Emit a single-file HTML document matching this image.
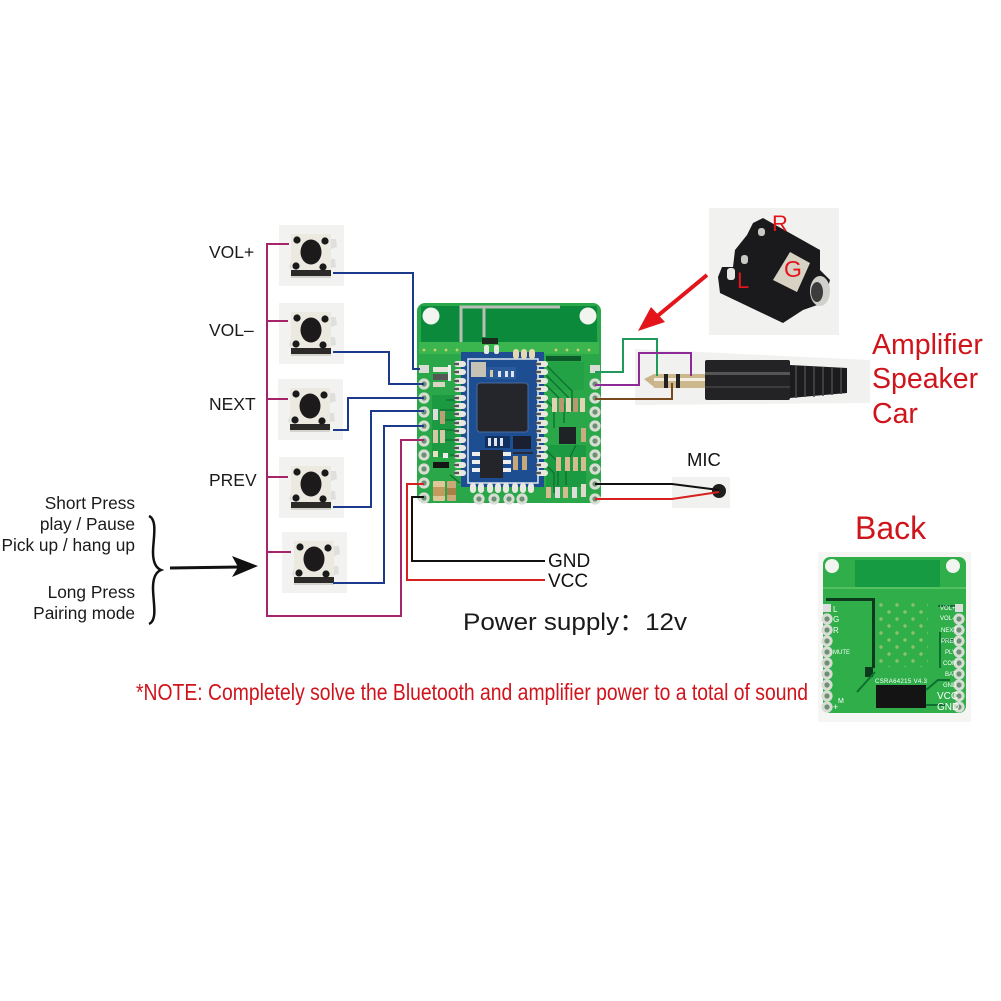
<!DOCTYPE html>
<html><head><meta charset="utf-8">
<style>html,body{margin:0;padding:0;background:#fff}svg{display:block}text{font-family:"Liberation Sans","Noto Sans CJK SC",sans-serif}</style>
</head><body>
<svg width="1001" height="1001" viewBox="0 0 1001 1001" xmlns="http://www.w3.org/2000/svg">
<defs>
<g id="btn">
<rect width="65" height="61" fill="#f2f3f1"/>
<path d="M52 14h5l1 8-6 2zM52 34h4l1 8-5 1zM12 36l-2 6 2 3z" fill="#dfe0de"/>
<rect x="12" y="9" width="40" height="37" fill="#ece9e0"/>
<rect x="12" y="45" width="40" height="6" fill="#2c2a28"/>
<rect x="12" y="51" width="40" height="2" fill="#d4d4cf"/>
<circle cx="18" cy="15" r="3.6" fill="#1a1a1a"/><circle cx="46" cy="16" r="3.6" fill="#1a1a1a"/>
<circle cx="17" cy="41" r="3.6" fill="#1a1a1a"/><circle cx="44" cy="42" r="3.6" fill="#1a1a1a"/>
<ellipse cx="32" cy="27" rx="10.5" ry="12.5" fill="#1c1a1b"/>
</g>
<g id="pad"><circle r="5.6" fill="#d8ddd4"/><circle r="2.6" fill="#6d8f74"/></g>
<g id="mp"><rect x="-6" y="-3" width="12" height="6" rx="3" fill="#e8e8e0"/><rect x="-6" y="-1.2" width="5" height="2.4" fill="#555"/></g>
<pattern id="dots" x="878" y="602" width="16" height="14" patternUnits="userSpaceOnUse">
<circle cx="3" cy="3" r="1.7" fill="#8fc16a"/><circle cx="11" cy="10" r="1.7" fill="#8fc16a"/>
</pattern>
<pattern id="tdots" x="430" y="345" width="11" height="11" patternUnits="userSpaceOnUse"><circle cx="5" cy="5" r="1.4" fill="#c8d070"/></pattern>
</defs>
<rect width="1001" height="1001" fill="#fff"/>

<!-- buttons -->
<use href="#btn" x="279" y="225"/>
<use href="#btn" x="279" y="303"/>
<use href="#btn" x="278" y="379"/>
<use href="#btn" x="279" y="457"/>
<use href="#btn" x="282" y="532"/>

<!-- main board -->
<rect x="417" y="303" width="184" height="200" rx="8" fill="#2aa748"/>
<rect x="421" y="306" width="176" height="36" fill="#0b8a3c"/>
<rect x="419" y="342" width="180" height="12" fill="#3bb54d"/>
<rect x="421" y="345" width="38" height="9" fill="url(#tdots)"/>
<rect x="550" y="345" width="46" height="9" fill="url(#tdots)"/>
<rect x="546" y="356" width="35" height="5" fill="#0a5a2a"/>
<rect x="548" y="362" width="36" height="28" fill="#23a245"/>
<rect x="432" y="395" width="28" height="62" fill="#1c9a42"/>
<rect x="546" y="445" width="40" height="42" fill="#1c9a42"/>
<circle cx="431" cy="316" r="8.5" fill="#f2f4ef"/><circle cx="588" cy="316" r="8.5" fill="#f2f4ef"/>
<path d="M461 342V307H560M484 307V337" fill="none" stroke="#b9bdb4" stroke-width="3"/>
<rect x="482" y="338" width="16" height="6" fill="#1d2b1e"/>
<path d="M546 365l26 26v20M546 375l22 22v16M546 385l18 18v20M546 400l8 8v20M546 450l12 12v24M546 465l8 8v20M576 445l-10 20v20" fill="none" stroke="#0d6f30" stroke-width="1.3"/>
<path d="M446 400h14M440 410h18M440 420h20M440 430h20M440 440h20M450 455h10M450 475l10 8" fill="none" stroke="#0d6f30" stroke-width="1.3"/>

<!-- left parts -->
<rect x="433" y="367" width="16" height="5" fill="#e8e6dc"/><rect x="433" y="374" width="16" height="6" fill="#555"/><rect x="433" y="382" width="12" height="5" fill="#d9d4c4"/>
<rect x="448" y="365" width="3" height="16" fill="#eee"/>
<rect x="433" y="409" width="5" height="11" fill="#ddd"/><rect x="440" y="411" width="5" height="13" fill="#b9a075"/>
<rect x="433" y="430" width="5" height="13" fill="#d4c8a8"/><rect x="440" y="430" width="5" height="13" fill="#d4c8a8"/>
<rect x="433" y="451" width="5" height="6" fill="#e8e0c0"/><rect x="443" y="453" width="5" height="5" fill="#eee"/>
<rect x="433" y="462" width="16" height="6" fill="#151515"/>
<rect x="433" y="481" width="12" height="20" rx="1" fill="#e0c79a"/><rect x="433" y="487" width="12" height="9" fill="#c49a5e"/>
<rect x="447" y="481" width="9" height="20" rx="1" fill="#caa878"/><rect x="447" y="488" width="9" height="7" fill="#a88048"/>

<!-- module -->
<rect x="461" y="352" width="83" height="135" fill="#1d4e91"/>
<rect x="468" y="359" width="70" height="124" fill="none" stroke="#dfe6ee" stroke-width="1.5"/>
<rect x="471" y="362" width="15" height="15" fill="#c7c3b4"/>
<rect x="486" y="367" width="30" height="12" fill="#2a5a9b"/>
<rect x="490" y="370" width="3" height="7" fill="#d8c8a0"/><rect x="498" y="371" width="3" height="6" fill="#e0e6f0"/><rect x="505" y="371" width="3" height="6" fill="#e0e6f0"/><rect x="511" y="371" width="3" height="6" fill="#e0e6f0"/>
<path d="M479 383h47l2 2v45l-2 2h-47l-2-2v-45z" fill="#25262b" stroke="#4a6a9a" stroke-width="1"/>
<rect x="485" y="436" width="25" height="12" fill="#0f3060"/>
<rect x="488" y="438" width="3" height="8" fill="#e0e6f0"/><rect x="494" y="438" width="3" height="8" fill="#e0e6f0"/><rect x="500" y="438" width="3" height="8" fill="#e0e6f0"/>
<rect x="513" y="436" width="18" height="13" fill="#1a2030"/>
<rect x="480" y="450" width="23" height="28" fill="#24252a"/>
<rect x="472" y="452" width="8" height="4" fill="#eee"/><rect x="472" y="460" width="8" height="4" fill="#eee"/><rect x="472" y="468" width="8" height="4" fill="#eee"/>
<rect x="503" y="452" width="8" height="4" fill="#eee"/><rect x="503" y="460" width="8" height="4" fill="#eee"/><rect x="503" y="468" width="8" height="4" fill="#eee"/>
<rect x="513" y="456" width="5" height="14" fill="#c8a878"/><rect x="522" y="456" width="5" height="14" fill="#c8a878"/>
<rect x="513" y="452" width="20" height="2" fill="#2a2a3a"/>
<!-- module pads -->
<use href="#mp" x="460" y="364"/><use href="#mp" x="460" y="372"/><use href="#mp" x="460" y="381"/><use href="#mp" x="460" y="389"/><use href="#mp" x="460" y="398"/><use href="#mp" x="460" y="406"/><use href="#mp" x="460" y="414"/><use href="#mp" x="460" y="423"/><use href="#mp" x="460" y="431"/><use href="#mp" x="460" y="440"/><use href="#mp" x="460" y="448"/><use href="#mp" x="460" y="456"/><use href="#mp" x="460" y="465"/><use href="#mp" x="460" y="473"/>
<use href="#mp" x="542" y="364"/><use href="#mp" x="542" y="372"/><use href="#mp" x="542" y="381"/><use href="#mp" x="542" y="389"/><use href="#mp" x="542" y="398"/><use href="#mp" x="542" y="406"/><use href="#mp" x="542" y="414"/><use href="#mp" x="542" y="423"/><use href="#mp" x="542" y="431"/><use href="#mp" x="542" y="440"/><use href="#mp" x="542" y="448"/><use href="#mp" x="542" y="456"/><use href="#mp" x="542" y="465"/><use href="#mp" x="542" y="473"/>
<rect x="470" y="483" width="6" height="10" rx="3" fill="#e8e8e0"/><rect x="478" y="483" width="6" height="10" rx="3" fill="#e8e8e0"/><rect x="487" y="483" width="6" height="10" rx="3" fill="#e8e8e0"/><rect x="495" y="483" width="6" height="10" rx="3" fill="#e8e8e0"/><rect x="503" y="483" width="6" height="10" rx="3" fill="#e8e8e0"/><rect x="512" y="483" width="6" height="10" rx="3" fill="#e8e8e0"/><rect x="520" y="483" width="6" height="10" rx="3" fill="#e8e8e0"/><rect x="528" y="483" width="6" height="10" rx="3" fill="#e8e8e0"/>
<rect x="513" y="349" width="6" height="10" rx="3" fill="#e6d8b0"/><rect x="521" y="349" width="6" height="10" rx="3" fill="#e6d8b0"/><rect x="529" y="349" width="6" height="10" rx="3" fill="#e6d8b0"/>
<rect x="484" y="345" width="5" height="9" rx="2" fill="#e8e8e0"/><rect x="494" y="345" width="5" height="9" rx="2" fill="#e8e8e0"/>
<!-- right parts -->
<rect x="552" y="398" width="5" height="14" fill="#e0d4b4"/><rect x="559" y="398" width="5" height="14" fill="#b89870"/><rect x="566" y="398" width="5" height="14" fill="#e0d4b4"/><rect x="573" y="398" width="5" height="14" fill="#b89870"/><rect x="580" y="398" width="5" height="14" fill="#e0d4b4"/>
<rect x="559" y="427" width="17" height="17" fill="#1e2326"/>
<rect x="581" y="428" width="5" height="14" fill="#c9ad80"/>
<rect x="556" y="457" width="5" height="14" fill="#d4bc90"/><rect x="565" y="457" width="5" height="14" fill="#d4bc90"/><rect x="573" y="457" width="5" height="14" fill="#d4bc90"/><rect x="581" y="457" width="5" height="14" fill="#d4bc90"/>
<rect x="546" y="487" width="5" height="11" fill="#d4bc90"/><rect x="555" y="487" width="5" height="11" fill="#ddd"/><rect x="563" y="487" width="5" height="11" fill="#d4bc90"/><rect x="572" y="487" width="5" height="11" fill="#ddd"/><rect x="581" y="484" width="5" height="13" fill="#e0d8c8"/>
<!-- edge pads -->
<rect x="419" y="365" width="10" height="8" fill="#d8dcd4"/>
<use href="#pad" x="424" y="384"/><use href="#pad" x="424" y="398"/><use href="#pad" x="424" y="412"/><use href="#pad" x="424" y="426"/><use href="#pad" x="424" y="441"/><use href="#pad" x="424" y="455"/><use href="#pad" x="424" y="469"/><use href="#pad" x="424" y="483"/><use href="#pad" x="424" y="498"/>
<rect x="590" y="365" width="10" height="8" fill="#d8dcd4"/>
<use href="#pad" x="595" y="384"/><use href="#pad" x="595" y="398"/><use href="#pad" x="595" y="412"/><use href="#pad" x="595" y="426"/><use href="#pad" x="595" y="441"/><use href="#pad" x="595" y="455"/><use href="#pad" x="595" y="469"/><use href="#pad" x="595" y="484"/><use href="#pad" x="595" y="499"/>
<use href="#pad" x="479" y="499"/><use href="#pad" x="494" y="499"/><use href="#pad" x="509" y="499"/><use href="#pad" x="522" y="499"/>

<!-- plug photo -->
<polygon points="635,349 870,360 870,403 635,405" fill="#f1f1ef"/>
<rect x="654" y="374" width="52" height="14" fill="#cdb88e"/>
<path d="M654 374L644 379L654 387z" fill="#c9b48a"/>
<rect x="654" y="378" width="52" height="3" fill="#f2eee2"/>
<rect x="664" y="374" width="4" height="14" fill="#222"/><rect x="676" y="374" width="4" height="14" fill="#222"/>
<rect x="705" y="360" width="85" height="40" rx="2" fill="#232325"/>
<rect x="705" y="372" width="85" height="3" fill="#555"/>
<rect x="705" y="386" width="85" height="2" fill="#3c3c3e"/>
<path d="M790 365L847 368V393L790 398z" fill="#1b1b1d"/>
<path d="M796 366v32M805 366v31M814 367v30M823 367v29M832 368v27M841 368v26" stroke="#4b4b4d" stroke-width="1.5"/>

<!-- jack photo -->
<rect x="709" y="208" width="130" height="127" fill="#f1f2f0"/>
<polygon points="718,277 722,267 733,267 735,250 747,235 753,223 763,218 820,250 820,270 830,280 823,303 803,310 783,323 720,293" fill="#1a1a1c"/>
<polygon points="790,252 810,263 797,292 773,280" fill="#d8d2c4"/>
<ellipse cx="820" cy="291" rx="10" ry="15" fill="#d0d0cc"/><ellipse cx="817" cy="292" rx="6" ry="10" fill="#3c3c3c"/>
<rect x="727" y="268" width="8" height="12" rx="3" fill="#e6e6e2"/><rect x="741" y="255" width="7" height="9" rx="3" fill="#c8c8c4"/><rect x="758" y="228" width="7" height="8" rx="3" fill="#c8c8c4"/>
<text x="772" y="231" font-size="22" fill="#e3141c">R</text>
<text x="784" y="277" font-size="23" fill="#e3141c">G</text>
<text x="737" y="288" font-size="22" fill="#e3141c">L</text>
<path d="M707 275L655 318" stroke="#e3141c" stroke-width="4" fill="none"/>
<polygon points="638,331 651,307 665,322" fill="#e3141c"/>

<!-- mic -->
<rect x="672" y="477" width="58" height="31" fill="#f1f2f0"/>
<circle cx="719" cy="491" r="7" fill="#1e1e1c"/>

<!-- wires -->
<g fill="none" stroke-width="2">
<path d="M289 244H267V616H401V440H424M267 321H288M267 399H288M267 477H288M267 552H291" stroke="#a6246a"/>
<path d="M333 273H413V369H420M333 352H389V384H424M333 430H348V398H424M333 507H371V411H424M333 583H384V426H424" stroke="#1b3a8c"/>
<path d="M424 484H407V580H545" stroke="#d8201f"/>
<path d="M424 497H412V561H545" stroke="#111"/>
<path d="M595 372H623V339H657V376" stroke="#1f9a5a"/>
<path d="M595 385H639V353H691V376" stroke="#8b2b96"/>
<path d="M595 399H672V383" stroke="#7a4a1e"/>
<path d="M595 484H672L719 490" stroke="#111"/>
<path d="M595 499H672L719 492" stroke="#d8201f"/>
</g>

<!-- labels -->
<g font-size="17.5" fill="#1a1a1a">
<text x="209" y="258">VOL+</text>
<text x="209" y="336">VOL–</text>
<text x="209" y="410">NEXT</text>
<text x="209" y="486">PREV</text>
</g>
<g font-size="17.3" fill="#1a1a1a" text-anchor="end">
<text x="135" y="509">Short Press</text>
<text x="135" y="530">play / Pause</text>
<text x="135" y="551">Pick up / hang up</text>
<text x="135" y="598">Long Press</text>
<text x="135" y="619">Pairing mode</text>
</g>
<path d="M149 516C158 520 153 540 153 552C153 562 156 568 161 570C156 572 153 578 153 588C153 602 158 620 149 624" fill="none" stroke="#111" stroke-width="2.5"/>
<path d="M170 568L240 567" stroke="#111" stroke-width="3"/>
<polygon points="258,566 232,556 238,567 232,577" fill="#111"/>
<text x="548" y="567" font-size="19" fill="#111">GND</text>
<text x="548" y="587" font-size="19" fill="#111">VCC</text>
<text x="687" y="466" font-size="18.5" fill="#111">MIC</text>
<text x="463" y="630" font-size="24" fill="#1a1a1a" textLength="224" lengthAdjust="spacingAndGlyphs">Power supply：12v</text>
<g font-size="28.5" fill="#d0141c">
<text x="872" y="354">Amplifier</text>
<text x="872" y="388">Speaker</text>
<text x="872" y="423">Car</text>
</g>
<text x="855" y="539" font-size="32" fill="#d0141c">Back</text>
<text x="136" y="700" font-size="23" fill="#d0141c" textLength="672" lengthAdjust="spacingAndGlyphs">*NOTE: Completely solve the Bluetooth and amplifier power to a total of sound</text>

<!-- back board -->
<rect x="818" y="552" width="153" height="170" fill="#f5f6f4"/>
<rect x="823" y="557" width="143" height="156" rx="7" fill="#2fae4a"/>
<rect x="855" y="560" width="85" height="27" fill="#169a42"/>
<rect x="823" y="587" width="143" height="2" fill="#55c060"/>
<rect x="826" y="598" width="47" height="3" fill="#0d3a1c"/>
<rect x="872" y="598" width="3" height="70" fill="#0d3a1c"/>
<rect x="865" y="667" width="8" height="10" fill="#0d3a1c"/>
<rect x="878" y="602" width="50" height="65" fill="url(#dots)"/>
<rect x="876" y="685" width="50" height="23" fill="#141414"/>
<path d="M857 692L875 672M926 690L938 680H950M926 705H945" fill="none" stroke="#0d6f30" stroke-width="2"/>
<path d="M960 606H938M955 640l-12 0M940 632V668" fill="none" stroke="#0d6f30" stroke-width="2"/>
<circle cx="832" cy="566" r="7" fill="#f2f4ef"/><circle cx="953" cy="566" r="7" fill="#f2f4ef"/>
<rect x="823" y="604" width="8" height="8" fill="#ddd"/>
<use href="#pad" x="827" y="619"/><use href="#pad" x="827" y="630"/><use href="#pad" x="827" y="641"/><use href="#pad" x="827" y="652"/><use href="#pad" x="827" y="663"/><use href="#pad" x="827" y="674"/><use href="#pad" x="827" y="685"/><use href="#pad" x="827" y="696"/><use href="#pad" x="827" y="707"/>
<rect x="955" y="604" width="8" height="8" fill="#ddd"/>
<use href="#pad" x="959" y="619"/><use href="#pad" x="959" y="630"/><use href="#pad" x="959" y="641"/><use href="#pad" x="959" y="652"/><use href="#pad" x="959" y="663"/><use href="#pad" x="959" y="674"/><use href="#pad" x="959" y="685"/><use href="#pad" x="959" y="696"/><use href="#pad" x="959" y="707"/>
<g fill="#fff" font-size="6">
<text x="833" y="612" font-size="8">L</text><text x="833" y="622" font-size="8">G</text><text x="833" y="633" font-size="8">R</text>
<text x="833" y="654">MUTE</text><text x="838" y="703" font-size="7">M</text><text x="833" y="710" font-size="9">+</text>
<text x="940" y="610">VOL+</text><text x="940" y="620">VOL-</text><text x="941" y="632">NEXT</text><text x="941" y="643">PREV</text><text x="945" y="654">PLY</text><text x="943" y="665">COM</text><text x="945" y="676">BAT</text><text x="943" y="687">GND</text>
<text x="937" y="699" font-size="10">VCC</text><text x="937" y="710" font-size="10">GND</text>
<text x="875" y="683" font-size="6" textLength="52">CSRA64215 V4.3</text>
</g>
</svg>
</body></html>
